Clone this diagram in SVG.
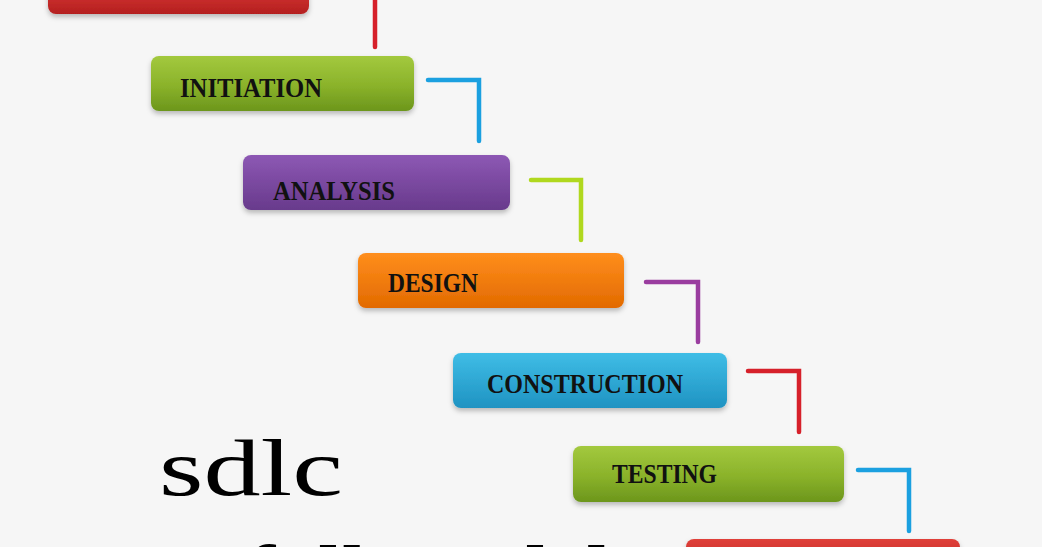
<svg xmlns="http://www.w3.org/2000/svg" width="1042" height="547" viewBox="0 0 1042 547">
  <defs>
    <linearGradient id="gRed" x1="0" y1="0" x2="0" y2="1">
      <stop offset="0" stop-color="#e0403a"/>
      <stop offset="1" stop-color="#b41f1f"/>
    </linearGradient>
    <linearGradient id="gGreen" x1="0" y1="0" x2="0" y2="1">
      <stop offset="0" stop-color="#a3c93e"/>
      <stop offset="0.55" stop-color="#8ab22a"/>
      <stop offset="1" stop-color="#6c961c"/>
    </linearGradient>
    <linearGradient id="gPurple" x1="0" y1="0" x2="0" y2="1">
      <stop offset="0" stop-color="#8d58b4"/>
      <stop offset="1" stop-color="#683a8c"/>
    </linearGradient>
    <linearGradient id="gOrange" x1="0" y1="0" x2="0" y2="1">
      <stop offset="0" stop-color="#ff8e1c"/>
      <stop offset="1" stop-color="#e26a00"/>
    </linearGradient>
    <linearGradient id="gCyan" x1="0" y1="0" x2="0" y2="1">
      <stop offset="0" stop-color="#3fbde6"/>
      <stop offset="1" stop-color="#1f93c2"/>
    </linearGradient>
    <filter id="shadow" x="-10%" y="-20%" width="120%" height="160%">
      <feDropShadow dx="0" dy="3" stdDeviation="2.5" flood-color="#000" flood-opacity="0.25"/>
    </filter>
  </defs>
  <style>
    .box { filter: url(#shadow); }
    .lbl { font-family: "Liberation Serif", "Times New Roman", serif; font-weight: bold; font-size: 27px; fill: #111; }
    .conn { fill: none; stroke-width: 4.5; stroke-linecap: round; stroke-linejoin: miter; }
    .big { font-family: "Liberation Serif", "Times New Roman", serif; fill: #000; }
  </style>
  <rect x="0" y="0" width="1042" height="547" fill="#f6f6f6"/>

  <g id="connectors">
    <path class="conn" stroke="#d6202a" d="M375,-4 V47"/>
    <path class="conn" stroke="#1ba0e0" d="M428,80 H479 V141"/>
    <path class="conn" stroke="#b0d81e" d="M531,180 H581 V240"/>
    <path class="conn" stroke="#9a3d9f" d="M646,282 H698 V342"/>
    <path class="conn" stroke="#d6202a" d="M748,371 H799 V432"/>
    <path class="conn" stroke="#1ba0e0" d="M858,470 H909 V531"/>
  </g>

  <g id="node-top">
    <rect class="box" x="48" y="-20" width="261" height="34" rx="8" fill="url(#gRed)"/>
  </g>

  <g id="node-initiation">
    <rect class="box" x="151" y="56" width="263" height="55" rx="8" fill="url(#gGreen)"/>
    <text class="lbl" x="180" y="97" textLength="142" lengthAdjust="spacingAndGlyphs">INITIATION</text>
  </g>

  <g id="node-analysis">
    <rect class="box" x="243" y="155" width="267" height="55" rx="8" fill="url(#gPurple)"/>
    <text class="lbl" x="273" y="200" textLength="122" lengthAdjust="spacingAndGlyphs">ANALYSIS</text>
  </g>

  <g id="node-design">
    <rect class="box" x="358" y="253" width="266" height="55" rx="8" fill="url(#gOrange)"/>
    <text class="lbl" x="388" y="292" textLength="90" lengthAdjust="spacingAndGlyphs">DESIGN</text>
  </g>

  <g id="node-construction">
    <rect class="box" x="453" y="353" width="274" height="55" rx="8" fill="url(#gCyan)"/>
    <text class="lbl" x="487" y="393" textLength="196" lengthAdjust="spacingAndGlyphs">CONSTRUCTION</text>
  </g>

  <g id="node-testing">
    <rect class="box" x="573" y="446" width="271" height="56" rx="8" fill="url(#gGreen)"/>
    <text class="lbl" x="612" y="483" textLength="105" lengthAdjust="spacingAndGlyphs">TESTING</text>
  </g>

  <g id="node-bottom">
    <rect class="box" x="686" y="539" width="274" height="40" rx="8" fill="url(#gRed)"/>
  </g>

  <g id="titles">
    <text class="big" x="159" y="495" font-size="80" textLength="184" lengthAdjust="spacingAndGlyphs">sdlc</text>
    <text class="big" x="38" y="601" font-size="80" font-weight="bold" textLength="572" lengthAdjust="spacingAndGlyphs">waterfall model</text>
  </g>
</svg>
